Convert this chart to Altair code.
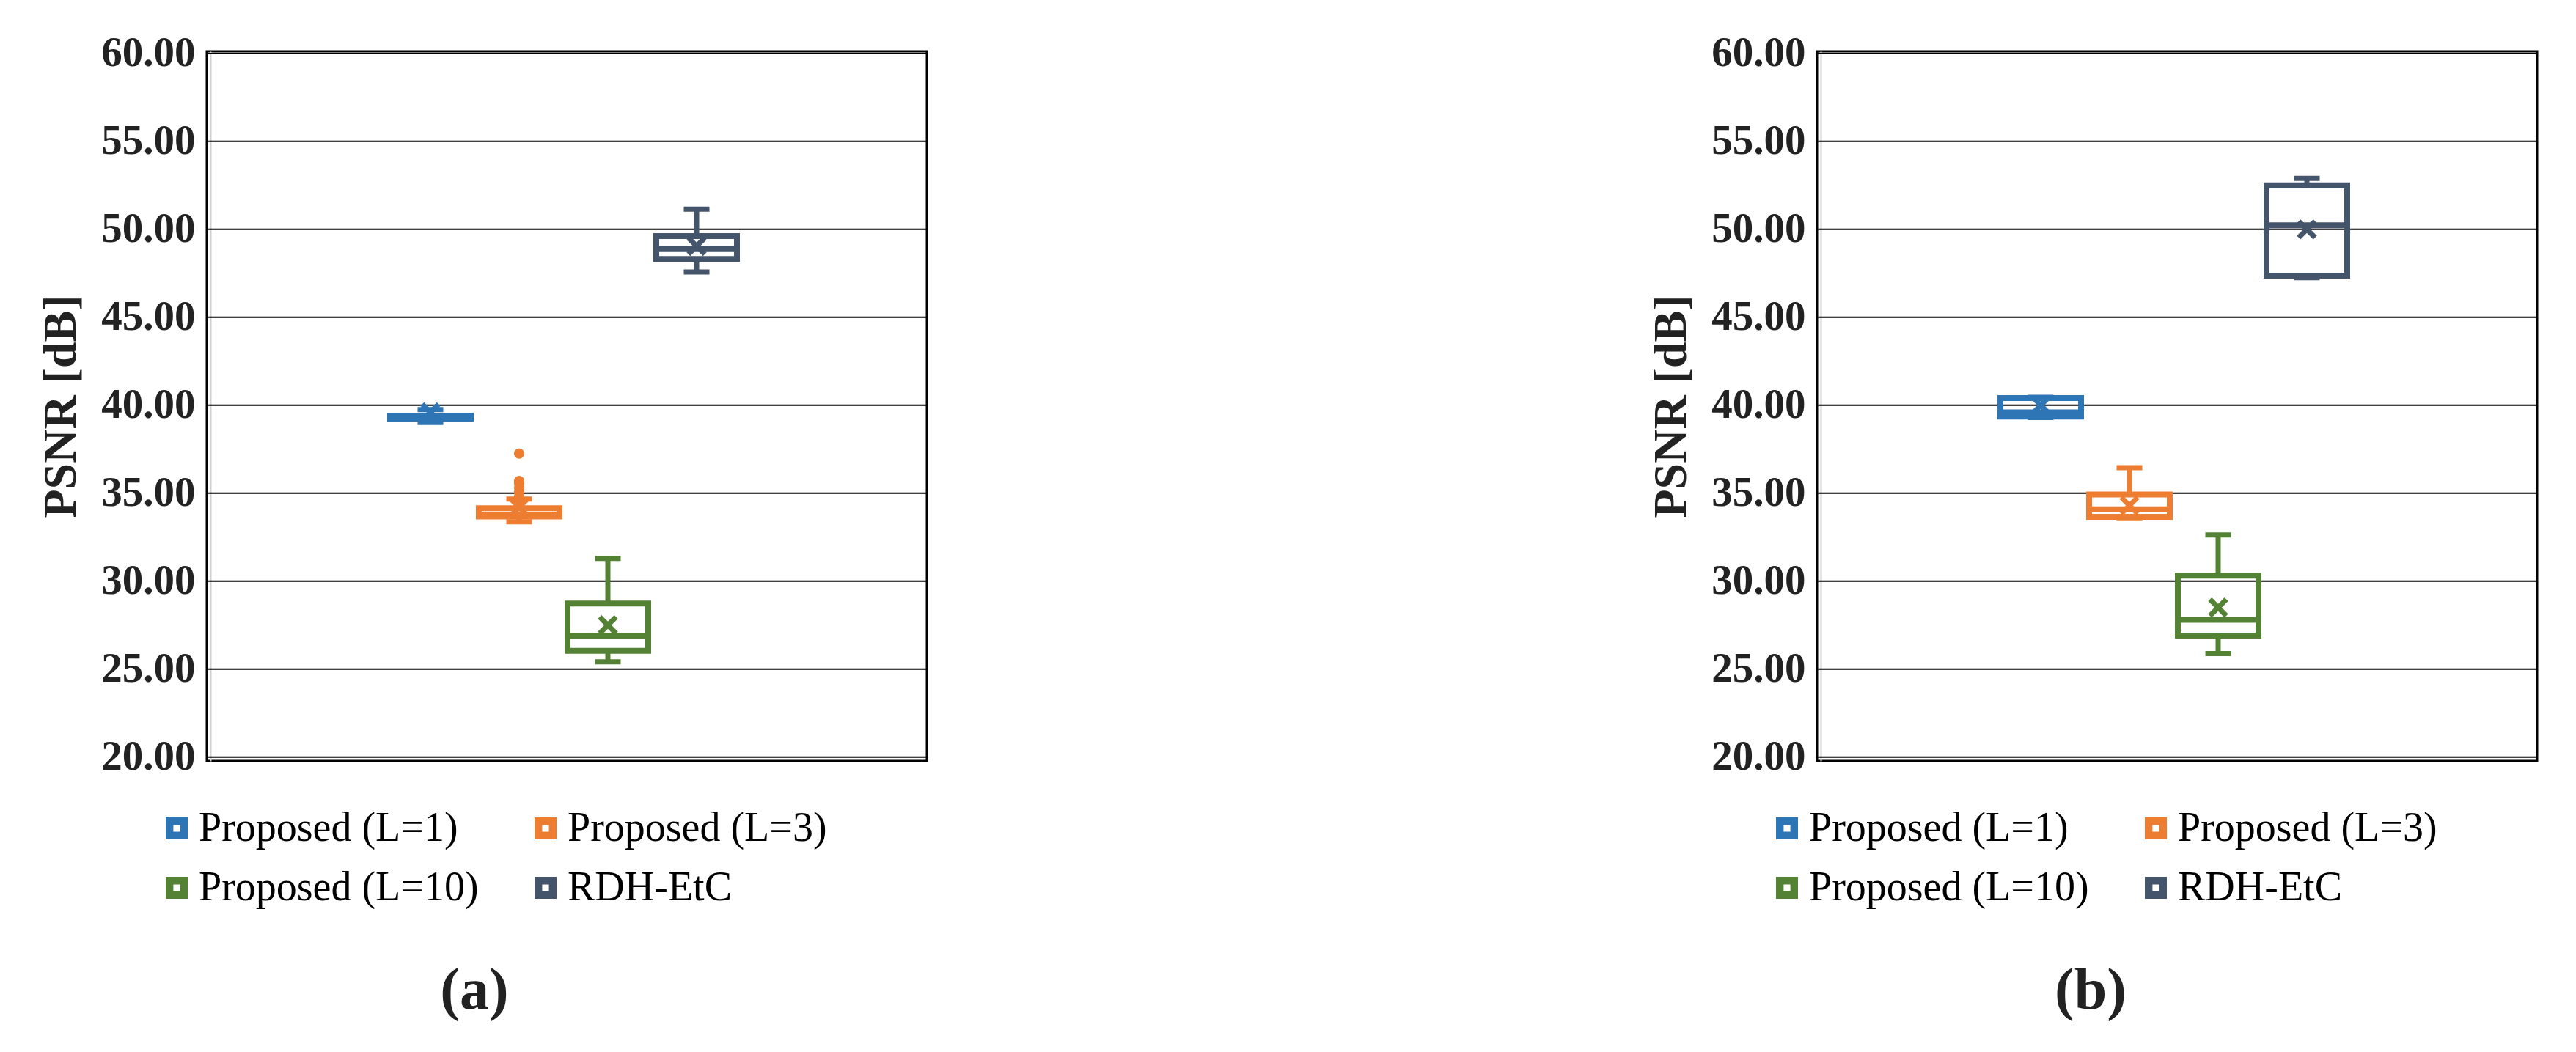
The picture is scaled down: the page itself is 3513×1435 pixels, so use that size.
import altair as alt
import pandas as pd

series = ["Proposed (L=1)", "Proposed (L=3)", "Proposed (L=10)", "RDH-EtC"]
colors = ["#2E75B6", "#ED7D31", "#548235", "#44546A"]

# panel (a)
a_min = [39.02, 33.38, 25.42, 47.58]
a_q1 = [39.23, 33.68, 26.04, 48.32]
a_med = [39.32, 33.77, 26.88, 48.88]
a_q3 = [39.40, 34.15, 28.73, 49.62]
a_max = [39.75, 34.67, 31.29, 51.15]
a_mean = [39.60, 34.20, 27.50, 49.05]
a_out_series = ["Proposed (L=3)"] * 6
a_out_vals = [37.25, 35.70, 35.55, 35.30, 35.05, 34.80]

# panel (b)
b_min = [39.30, 33.60, 25.88, 47.25]
b_q1 = [39.36, 33.66, 26.91, 47.37]
b_med = [39.60, 34.08, 27.80, 50.23]
b_q3 = [40.41, 34.93, 30.31, 52.50]
b_max = [40.45, 36.45, 32.63, 52.90]
b_mean = [40.00, 34.30, 28.50, 50.00]
b_out_series = []
b_out_vals = []

y_ticks = [20, 25, 30, 35, 40, 45, 50, 55, 60]

FONT = "Liberation Serif"
W, H = 982, 968
HOLLOW_SQ = "M-1,-1H1V1H-1Z M-0.4,-0.4V0.4H0.4V-0.4Z"


def panel(mn, q1, md, q3, mx, mean, out_s, out_v, caption, cap_dx):
    df = pd.DataFrame({"series": series, "min": mn, "q1": q1, "med": md,
                       "q3": q3, "max": mx, "mean": mean})
    dout = pd.DataFrame({"series": out_s, "v": out_v})
    dgrid = pd.DataFrame({"t": y_ticks})
    xsc = alt.Scale(type="point", domain=series, range=[305, 668], padding=0)
    ysc = alt.Scale(domain=[19.78, 60.12], nice=False, zero=False)
    csc = alt.Scale(domain=series, range=colors)
    x = alt.X("series:N", scale=xsc, axis=None, sort=series)
    yaxis = alt.Axis(values=y_ticks, format=".2f", title="PSNR [dB]", grid=False,
                     ticks=False, domain=True,
                     domainColor="#d0d0d0", domainWidth=2, offset=-5,
                     labelPadding=21, labelFont=FONT, labelFontSize=57,
                     labelFontWeight="bold", labelColor="#222222",
                     titleFont=FONT, titleFontSize=64, titleFontWeight="bold",
                     titleColor="#222222", titlePadding=22)
    col_leg = alt.Color("series:N", scale=csc, sort=series,
                        legend=alt.Legend(title=None, orient="none", legendX=-69,
                                          legendY=1032, columns=2,
                                          direction="horizontal",
                                          symbolType=HOLLOW_SQ, symbolSize=784,
                                          symbolStrokeWidth=2, symbolOpacity=1,
                                          labelFont=FONT, labelFontSize=56,
                                          labelColor="black", labelOffset=2,
                                          columnPadding=63, rowPadding=25,
                                          labelLimit=0))
    col = alt.Color("series:N", scale=csc, sort=series, legend=None)
    base = alt.Chart(df)
    grid = alt.Chart(dgrid).mark_rule(color="black", strokeWidth=2).encode(
        y=alt.Y("t:Q", scale=ysc, axis=yaxis))
    # legend carrier: hollow squares at the medians, kept invisible in the plot
    leg = base.mark_point(shape=HOLLOW_SQ, filled=True, strokeWidth=2,
                          size=784, opacity=0).encode(x=x, y="med:Q", color=col_leg)
    box = base.mark_bar(filled=False, strokeWidth=8, size=110).encode(
        x=x, y=alt.Y("q1:Q", scale=ysc), y2="q3:Q", color=col)
    wlo = base.mark_rule(strokeWidth=7).encode(x=x, y="min:Q", y2="q1:Q", color=col)
    whi = base.mark_rule(strokeWidth=7).encode(x=x, y="q3:Q", y2="max:Q", color=col)
    med = base.mark_tick(size=112, thickness=8, opacity=1).encode(x=x, y="med:Q", color=col)
    cap_lo = base.mark_tick(size=35, thickness=7, opacity=1).encode(x=x, y="min:Q", color=col)
    cap_hi = base.mark_tick(size=35, thickness=7, opacity=1).encode(x=x, y="max:Q", color=col)
    mean_m = base.mark_point(shape="M-1,-1L1,1M1,-1L-1,1", filled=False,
                             strokeWidth=7, size=500, opacity=1).encode(
        x=x, y="mean:Q", color=col)
    layers = [grid, leg, box, wlo, whi, med, cap_lo, cap_hi, mean_m]
    if len(out_v):
        outl = alt.Chart(dout).mark_circle(size=200, opacity=1).encode(
            x=x, y="v:Q", color=col)
        layers.append(outl)
    return alt.layer(*layers).properties(
        width=W, height=H,
        title=alt.TitleParams(text=caption, orient="bottom", anchor="middle",
                              frame="group", dx=cap_dx, offset=74, font=FONT,
                              fontSize=80, fontWeight="bold", color="#222222"))


left = panel(a_min, a_q1, a_med, a_q3, a_max, a_mean, a_out_series, a_out_vals,
             "(a)", -126)
right = panel(b_min, b_q1, b_med, b_q3, b_max, b_mean, b_out_series, b_out_vals,
              "(b)", -118)

chart = alt.hconcat(left, right, spacing=979).resolve_scale(
    color="independent", x="independent", y="independent"
).resolve_legend(color="independent").properties(
    padding={"left": 42, "top": 34, "right": 5, "bottom": 5}
).configure(background="white").configure_view(
    stroke="black", strokeWidth=3
).configure_legend(labelFont=FONT)

chart.save("out.html", embed_options={"renderer": "svg", "actions": False})
